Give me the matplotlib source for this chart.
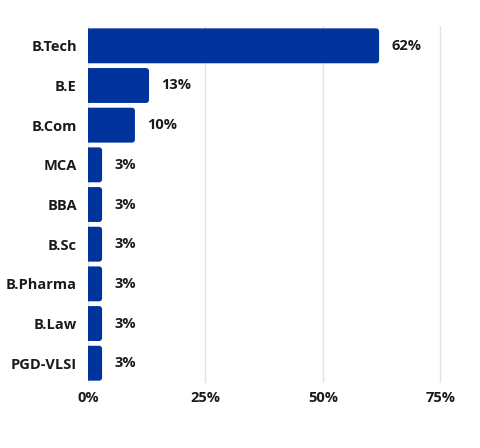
import matplotlib
matplotlib.use("Agg")
import matplotlib.pyplot as plt
from matplotlib.patches import FancyBboxPatch

categories = ["B.Tech", "B.E", "B.Com", "MCA", "BBA", "B.Sc", "B.Pharma", "B.Law", "PGD-VLSI"]
values = [62, 13, 10, 3, 3, 3, 3, 3, 3]
xticks = [0, 25, 50, 75]
xtick_labels = ["0%", "25%", "50%", "75%"]

plt.rcParams['font.family'] = ['Open Sans', 'DejaVu Sans']
color = "#00339c"

fig = plt.figure(figsize=(4.8, 4.48), dpi=100)
ax = fig.add_axes([0.1833, 0.145, 0.763, 0.797])
ax.set_xlim(0, 78)
ax.set_ylim(8.5, -0.5)

h = 0.88
rx = 0.64
ry = 0.075
ext = 3.0  # extend past the left edge so rounded left corners are clipped away
for i, v in enumerate(values):
    y0 = i - h / 2
    p = FancyBboxPatch((-ext, y0), v + ext, h,
                       boxstyle=f"round,pad=0,rounding_size={rx}",
                       mutation_aspect=ry / rx, fc=color, ec="none", zorder=3)
    ax.add_patch(p)
    ax.annotate(f"{v}%", xy=(v, i), xytext=(9, 0), textcoords="offset points",
                va="center", ha="left", fontsize=10.5,
                fontweight="bold", color="#1a1a1a", zorder=4)

ax.set_yticks(range(len(categories)))
ax.set_yticklabels(categories, fontsize=10.5, fontweight="bold", color="#1a1a1a")
ax.set_xticks(xticks)
ax.set_xticklabels(xtick_labels, fontsize=10.5, fontweight="bold", color="#1a1a1a")
ax.tick_params(axis="both", length=0)
ax.tick_params(axis="y", pad=8)
ax.tick_params(axis="x", pad=6)
ax.grid(axis="x", color="#e3e3e3", linewidth=1, zorder=0)
ax.set_axisbelow(True)
for s in ax.spines.values():
    s.set_visible(False)

fig.savefig("out.png", dpi=100)
